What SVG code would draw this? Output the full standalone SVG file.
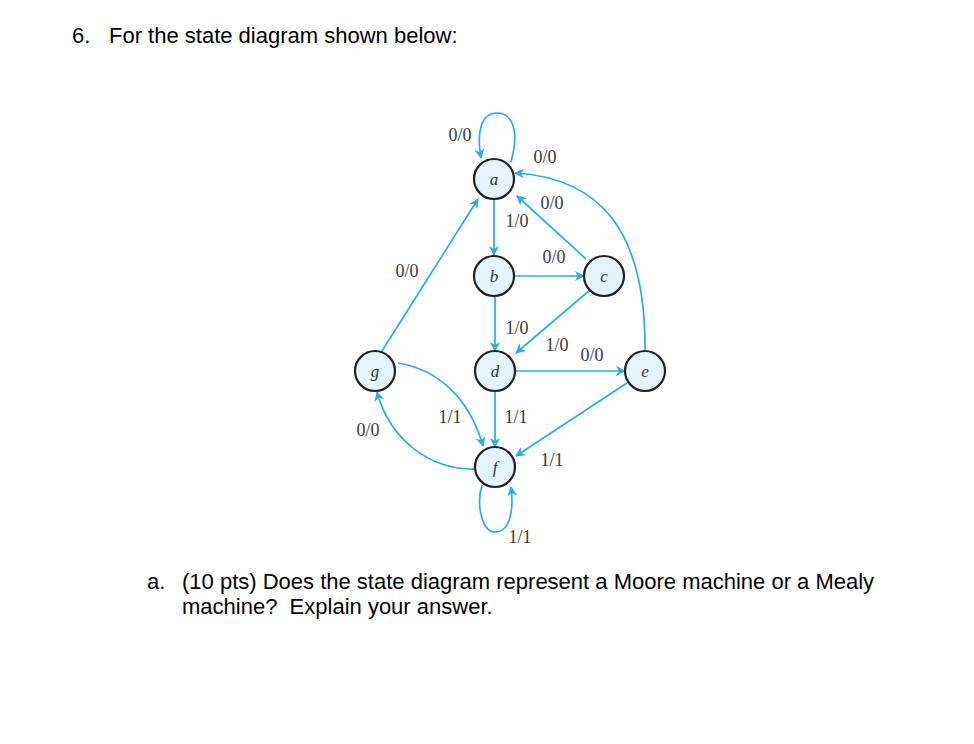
<svg xmlns="http://www.w3.org/2000/svg" width="974" height="744" viewBox="0 0 974 744">
<style>
.q{font-family:"Liberation Sans",Arial,sans-serif;font-size:22px;fill:#000}
.n circle{fill:#e4f3fc;stroke:#222;stroke-width:2.2}
.n text{font-family:"Liberation Serif","Times New Roman",serif;font-style:italic;font-size:17px;fill:#333;text-anchor:middle}
.e path{fill:none;stroke:#29aee3;stroke-width:1.7;marker-end:url(#ah)}
.l{font-family:"Liberation Serif","Times New Roman",serif;font-size:18px;fill:#3a3a3a;text-anchor:middle}
</style>
<defs>
<marker id="ah" viewBox="0 0 10 10" refX="9" refY="5" markerWidth="10" markerHeight="10" orient="auto" markerUnits="userSpaceOnUse">
<path d="M0,0 L10,5 L0,10 L3,5 z" fill="#29aee3"/>
</marker>
</defs>
<rect width="974" height="744" fill="#fff"/>
<text class="q" x="72" y="43">6.</text>
<text class="q" x="109" y="43">For the state diagram shown below:</text>
<text class="q" x="147" y="589">a.</text>
<text class="q" x="182" y="589">(10 pts) Does the state diagram represent a Moore machine or a Mealy</text>
<text class="q" x="182" y="614" xml:space="preserve">machine?  Explain your answer.</text>

<g id="edges" class="e">
<path d="M511,162 C520,130 512,113 497,113 C482,113 476,130 481,158"/>
<path d="M645,351 C646,230 600,178 515,173"/>
<path d="M586,259 L517,196"/>
<path d="M494,199 L494,255"/>
<path d="M514,276 L584,276"/>
<path d="M382,351 L478,199"/>
<path d="M495,296 L495,351"/>
<path d="M590,290 L516,353"/>
<path d="M515,371 L625,371"/>
<path d="M495,391 L495,447"/>
<path d="M627,383 L516,456"/>
<path d="M398,363 C440,370 470,400 483,446"/>
<path d="M475,469 C430,470 390,440 377,392"/>
<path d="M482,485 C476,505 482,532 495,532 C510,532 514,510 511,487"/>
</g>
<g id="labels">
<text class="l" x="460" y="141">0/0</text>
<text class="l" x="545" y="163">0/0</text>
<text class="l" x="552" y="209">0/0</text>
<text class="l" x="517" y="227">1/0</text>
<text class="l" x="554" y="263">0/0</text>
<text class="l" x="407" y="277">0/0</text>
<text class="l" x="517" y="334">1/0</text>
<text class="l" x="557" y="351">1/0</text>
<text class="l" x="592" y="361">0/0</text>
<text class="l" x="516" y="423">1/1</text>
<text class="l" x="450" y="423">1/1</text>
<text class="l" x="368" y="436">0/0</text>
<text class="l" x="552" y="466">1/1</text>
<text class="l" x="520" y="543">1/1</text>
</g>
<g id="a" class="n"><circle cx="494" cy="179" r="20"/><text x="494" y="185">a</text></g>
<g id="b" class="n"><circle cx="494" cy="276" r="20"/><text x="494" y="282">b</text></g>
<g id="c" class="n"><circle cx="604" cy="276" r="20"/><text x="604" y="282">c</text></g>
<g id="g" class="n"><circle cx="375" cy="371" r="20"/><text x="375" y="377">g</text></g>
<g id="d" class="n"><circle cx="495" cy="371" r="20"/><text x="495" y="377">d</text></g>
<g id="e" class="n"><circle cx="645" cy="371" r="20"/><text x="645" y="377">e</text></g>
<g id="f" class="n"><circle cx="495" cy="467" r="20"/><text x="495" y="473">f</text></g>
</svg>
